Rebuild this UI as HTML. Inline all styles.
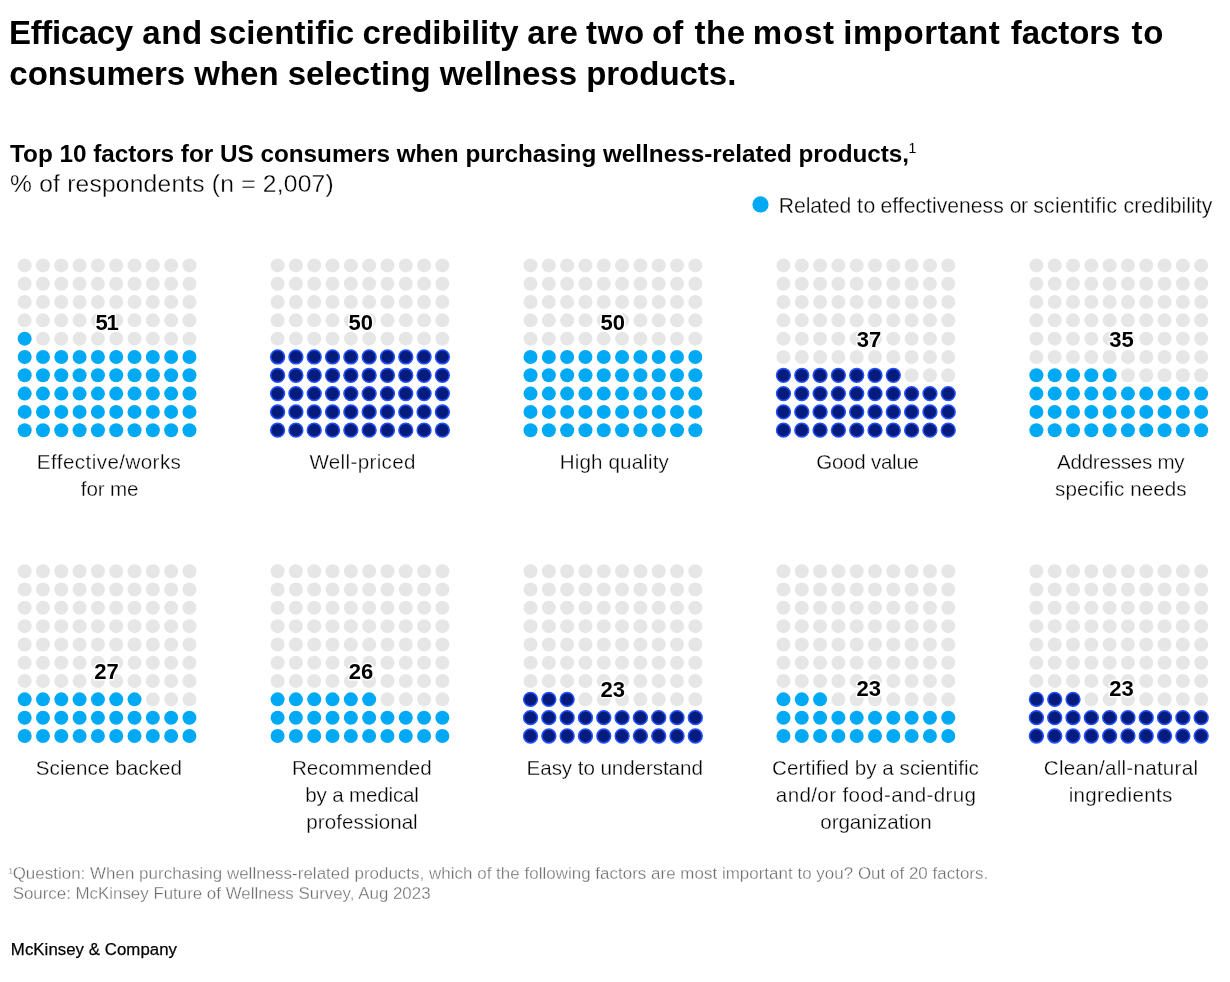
<!DOCTYPE html>
<html lang="en"><head><meta charset="utf-8"><title>Wellness factors</title>
<style>
html,body{margin:0;padding:0;background:#fff;}
body{width:1230px;height:982px;position:relative;overflow:hidden;font-family:'Liberation Sans',sans-serif;}
.t{position:absolute;white-space:nowrap;margin:0;}
.w{position:absolute;top:0;}
svg{position:absolute;left:0;top:0;}
.g circle{fill:#e6e6e6;}
.c circle{fill:#00a9f4;}
.d circle{fill:#051c7c;stroke:#2251ff;stroke-width:1.5;}
.n{font:bold 22px 'Liberation Sans',sans-serif;text-anchor:middle;fill:#000;stroke:#fff;stroke-width:3px;stroke-linejoin:round;paint-order:stroke fill;}
</style></head><body>
<svg width="1230" height="982" viewBox="0 0 1230 982"><g class="g"><circle cx="24.67" cy="265.42" r="7"/><circle cx="42.98" cy="265.42" r="7"/><circle cx="61.29" cy="265.42" r="7"/><circle cx="79.6" cy="265.42" r="7"/><circle cx="97.91" cy="265.42" r="7"/><circle cx="116.22" cy="265.42" r="7"/><circle cx="134.53" cy="265.42" r="7"/><circle cx="152.84" cy="265.42" r="7"/><circle cx="171.15" cy="265.42" r="7"/><circle cx="189.46" cy="265.42" r="7"/><circle cx="24.67" cy="283.73" r="7"/><circle cx="42.98" cy="283.73" r="7"/><circle cx="61.29" cy="283.73" r="7"/><circle cx="79.6" cy="283.73" r="7"/><circle cx="97.91" cy="283.73" r="7"/><circle cx="116.22" cy="283.73" r="7"/><circle cx="134.53" cy="283.73" r="7"/><circle cx="152.84" cy="283.73" r="7"/><circle cx="171.15" cy="283.73" r="7"/><circle cx="189.46" cy="283.73" r="7"/><circle cx="24.67" cy="302.04" r="7"/><circle cx="42.98" cy="302.04" r="7"/><circle cx="61.29" cy="302.04" r="7"/><circle cx="79.6" cy="302.04" r="7"/><circle cx="97.91" cy="302.04" r="7"/><circle cx="116.22" cy="302.04" r="7"/><circle cx="134.53" cy="302.04" r="7"/><circle cx="152.84" cy="302.04" r="7"/><circle cx="171.15" cy="302.04" r="7"/><circle cx="189.46" cy="302.04" r="7"/><circle cx="24.67" cy="320.35" r="7"/><circle cx="42.98" cy="320.35" r="7"/><circle cx="61.29" cy="320.35" r="7"/><circle cx="79.6" cy="320.35" r="7"/><circle cx="97.91" cy="320.35" r="7"/><circle cx="116.22" cy="320.35" r="7"/><circle cx="134.53" cy="320.35" r="7"/><circle cx="152.84" cy="320.35" r="7"/><circle cx="171.15" cy="320.35" r="7"/><circle cx="189.46" cy="320.35" r="7"/><circle cx="42.98" cy="338.66" r="7"/><circle cx="61.29" cy="338.66" r="7"/><circle cx="79.6" cy="338.66" r="7"/><circle cx="97.91" cy="338.66" r="7"/><circle cx="116.22" cy="338.66" r="7"/><circle cx="134.53" cy="338.66" r="7"/><circle cx="152.84" cy="338.66" r="7"/><circle cx="171.15" cy="338.66" r="7"/><circle cx="189.46" cy="338.66" r="7"/></g>
<g class="c"><circle cx="24.67" cy="338.66" r="7.0"/><circle cx="24.67" cy="356.97" r="7.0"/><circle cx="42.98" cy="356.97" r="7.0"/><circle cx="61.29" cy="356.97" r="7.0"/><circle cx="79.6" cy="356.97" r="7.0"/><circle cx="97.91" cy="356.97" r="7.0"/><circle cx="116.22" cy="356.97" r="7.0"/><circle cx="134.53" cy="356.97" r="7.0"/><circle cx="152.84" cy="356.97" r="7.0"/><circle cx="171.15" cy="356.97" r="7.0"/><circle cx="189.46" cy="356.97" r="7.0"/><circle cx="24.67" cy="375.28" r="7.0"/><circle cx="42.98" cy="375.28" r="7.0"/><circle cx="61.29" cy="375.28" r="7.0"/><circle cx="79.6" cy="375.28" r="7.0"/><circle cx="97.91" cy="375.28" r="7.0"/><circle cx="116.22" cy="375.28" r="7.0"/><circle cx="134.53" cy="375.28" r="7.0"/><circle cx="152.84" cy="375.28" r="7.0"/><circle cx="171.15" cy="375.28" r="7.0"/><circle cx="189.46" cy="375.28" r="7.0"/><circle cx="24.67" cy="393.59" r="7.0"/><circle cx="42.98" cy="393.59" r="7.0"/><circle cx="61.29" cy="393.59" r="7.0"/><circle cx="79.6" cy="393.59" r="7.0"/><circle cx="97.91" cy="393.59" r="7.0"/><circle cx="116.22" cy="393.59" r="7.0"/><circle cx="134.53" cy="393.59" r="7.0"/><circle cx="152.84" cy="393.59" r="7.0"/><circle cx="171.15" cy="393.59" r="7.0"/><circle cx="189.46" cy="393.59" r="7.0"/><circle cx="24.67" cy="411.9" r="7.0"/><circle cx="42.98" cy="411.9" r="7.0"/><circle cx="61.29" cy="411.9" r="7.0"/><circle cx="79.6" cy="411.9" r="7.0"/><circle cx="97.91" cy="411.9" r="7.0"/><circle cx="116.22" cy="411.9" r="7.0"/><circle cx="134.53" cy="411.9" r="7.0"/><circle cx="152.84" cy="411.9" r="7.0"/><circle cx="171.15" cy="411.9" r="7.0"/><circle cx="189.46" cy="411.9" r="7.0"/><circle cx="24.67" cy="430.21" r="7.0"/><circle cx="42.98" cy="430.21" r="7.0"/><circle cx="61.29" cy="430.21" r="7.0"/><circle cx="79.6" cy="430.21" r="7.0"/><circle cx="97.91" cy="430.21" r="7.0"/><circle cx="116.22" cy="430.21" r="7.0"/><circle cx="134.53" cy="430.21" r="7.0"/><circle cx="152.84" cy="430.21" r="7.0"/><circle cx="171.15" cy="430.21" r="7.0"/><circle cx="189.46" cy="430.21" r="7.0"/></g>
<text class="n" x="106.4" y="329.8" style="letter-spacing:-1.3px">51</text>
<g class="g"><circle cx="277.6" cy="265.42" r="7"/><circle cx="295.91" cy="265.42" r="7"/><circle cx="314.22" cy="265.42" r="7"/><circle cx="332.53" cy="265.42" r="7"/><circle cx="350.84" cy="265.42" r="7"/><circle cx="369.15" cy="265.42" r="7"/><circle cx="387.46" cy="265.42" r="7"/><circle cx="405.77" cy="265.42" r="7"/><circle cx="424.08" cy="265.42" r="7"/><circle cx="442.39" cy="265.42" r="7"/><circle cx="277.6" cy="283.73" r="7"/><circle cx="295.91" cy="283.73" r="7"/><circle cx="314.22" cy="283.73" r="7"/><circle cx="332.53" cy="283.73" r="7"/><circle cx="350.84" cy="283.73" r="7"/><circle cx="369.15" cy="283.73" r="7"/><circle cx="387.46" cy="283.73" r="7"/><circle cx="405.77" cy="283.73" r="7"/><circle cx="424.08" cy="283.73" r="7"/><circle cx="442.39" cy="283.73" r="7"/><circle cx="277.6" cy="302.04" r="7"/><circle cx="295.91" cy="302.04" r="7"/><circle cx="314.22" cy="302.04" r="7"/><circle cx="332.53" cy="302.04" r="7"/><circle cx="350.84" cy="302.04" r="7"/><circle cx="369.15" cy="302.04" r="7"/><circle cx="387.46" cy="302.04" r="7"/><circle cx="405.77" cy="302.04" r="7"/><circle cx="424.08" cy="302.04" r="7"/><circle cx="442.39" cy="302.04" r="7"/><circle cx="277.6" cy="320.35" r="7"/><circle cx="295.91" cy="320.35" r="7"/><circle cx="314.22" cy="320.35" r="7"/><circle cx="332.53" cy="320.35" r="7"/><circle cx="350.84" cy="320.35" r="7"/><circle cx="369.15" cy="320.35" r="7"/><circle cx="387.46" cy="320.35" r="7"/><circle cx="405.77" cy="320.35" r="7"/><circle cx="424.08" cy="320.35" r="7"/><circle cx="442.39" cy="320.35" r="7"/><circle cx="277.6" cy="338.66" r="7"/><circle cx="295.91" cy="338.66" r="7"/><circle cx="314.22" cy="338.66" r="7"/><circle cx="332.53" cy="338.66" r="7"/><circle cx="350.84" cy="338.66" r="7"/><circle cx="369.15" cy="338.66" r="7"/><circle cx="387.46" cy="338.66" r="7"/><circle cx="405.77" cy="338.66" r="7"/><circle cx="424.08" cy="338.66" r="7"/><circle cx="442.39" cy="338.66" r="7"/></g>
<g class="d"><circle cx="277.6" cy="356.97" r="6.9"/><circle cx="295.91" cy="356.97" r="6.9"/><circle cx="314.22" cy="356.97" r="6.9"/><circle cx="332.53" cy="356.97" r="6.9"/><circle cx="350.84" cy="356.97" r="6.9"/><circle cx="369.15" cy="356.97" r="6.9"/><circle cx="387.46" cy="356.97" r="6.9"/><circle cx="405.77" cy="356.97" r="6.9"/><circle cx="424.08" cy="356.97" r="6.9"/><circle cx="442.39" cy="356.97" r="6.9"/><circle cx="277.6" cy="375.28" r="6.9"/><circle cx="295.91" cy="375.28" r="6.9"/><circle cx="314.22" cy="375.28" r="6.9"/><circle cx="332.53" cy="375.28" r="6.9"/><circle cx="350.84" cy="375.28" r="6.9"/><circle cx="369.15" cy="375.28" r="6.9"/><circle cx="387.46" cy="375.28" r="6.9"/><circle cx="405.77" cy="375.28" r="6.9"/><circle cx="424.08" cy="375.28" r="6.9"/><circle cx="442.39" cy="375.28" r="6.9"/><circle cx="277.6" cy="393.59" r="6.9"/><circle cx="295.91" cy="393.59" r="6.9"/><circle cx="314.22" cy="393.59" r="6.9"/><circle cx="332.53" cy="393.59" r="6.9"/><circle cx="350.84" cy="393.59" r="6.9"/><circle cx="369.15" cy="393.59" r="6.9"/><circle cx="387.46" cy="393.59" r="6.9"/><circle cx="405.77" cy="393.59" r="6.9"/><circle cx="424.08" cy="393.59" r="6.9"/><circle cx="442.39" cy="393.59" r="6.9"/><circle cx="277.6" cy="411.9" r="6.9"/><circle cx="295.91" cy="411.9" r="6.9"/><circle cx="314.22" cy="411.9" r="6.9"/><circle cx="332.53" cy="411.9" r="6.9"/><circle cx="350.84" cy="411.9" r="6.9"/><circle cx="369.15" cy="411.9" r="6.9"/><circle cx="387.46" cy="411.9" r="6.9"/><circle cx="405.77" cy="411.9" r="6.9"/><circle cx="424.08" cy="411.9" r="6.9"/><circle cx="442.39" cy="411.9" r="6.9"/><circle cx="277.6" cy="430.21" r="6.9"/><circle cx="295.91" cy="430.21" r="6.9"/><circle cx="314.22" cy="430.21" r="6.9"/><circle cx="332.53" cy="430.21" r="6.9"/><circle cx="350.84" cy="430.21" r="6.9"/><circle cx="369.15" cy="430.21" r="6.9"/><circle cx="387.46" cy="430.21" r="6.9"/><circle cx="405.77" cy="430.21" r="6.9"/><circle cx="424.08" cy="430.21" r="6.9"/><circle cx="442.39" cy="430.21" r="6.9"/></g>
<text class="n" x="360.8" y="329.8">50</text>
<g class="g"><circle cx="530.53" cy="265.42" r="7"/><circle cx="548.84" cy="265.42" r="7"/><circle cx="567.15" cy="265.42" r="7"/><circle cx="585.46" cy="265.42" r="7"/><circle cx="603.77" cy="265.42" r="7"/><circle cx="622.08" cy="265.42" r="7"/><circle cx="640.39" cy="265.42" r="7"/><circle cx="658.7" cy="265.42" r="7"/><circle cx="677.01" cy="265.42" r="7"/><circle cx="695.32" cy="265.42" r="7"/><circle cx="530.53" cy="283.73" r="7"/><circle cx="548.84" cy="283.73" r="7"/><circle cx="567.15" cy="283.73" r="7"/><circle cx="585.46" cy="283.73" r="7"/><circle cx="603.77" cy="283.73" r="7"/><circle cx="622.08" cy="283.73" r="7"/><circle cx="640.39" cy="283.73" r="7"/><circle cx="658.7" cy="283.73" r="7"/><circle cx="677.01" cy="283.73" r="7"/><circle cx="695.32" cy="283.73" r="7"/><circle cx="530.53" cy="302.04" r="7"/><circle cx="548.84" cy="302.04" r="7"/><circle cx="567.15" cy="302.04" r="7"/><circle cx="585.46" cy="302.04" r="7"/><circle cx="603.77" cy="302.04" r="7"/><circle cx="622.08" cy="302.04" r="7"/><circle cx="640.39" cy="302.04" r="7"/><circle cx="658.7" cy="302.04" r="7"/><circle cx="677.01" cy="302.04" r="7"/><circle cx="695.32" cy="302.04" r="7"/><circle cx="530.53" cy="320.35" r="7"/><circle cx="548.84" cy="320.35" r="7"/><circle cx="567.15" cy="320.35" r="7"/><circle cx="585.46" cy="320.35" r="7"/><circle cx="603.77" cy="320.35" r="7"/><circle cx="622.08" cy="320.35" r="7"/><circle cx="640.39" cy="320.35" r="7"/><circle cx="658.7" cy="320.35" r="7"/><circle cx="677.01" cy="320.35" r="7"/><circle cx="695.32" cy="320.35" r="7"/><circle cx="530.53" cy="338.66" r="7"/><circle cx="548.84" cy="338.66" r="7"/><circle cx="567.15" cy="338.66" r="7"/><circle cx="585.46" cy="338.66" r="7"/><circle cx="603.77" cy="338.66" r="7"/><circle cx="622.08" cy="338.66" r="7"/><circle cx="640.39" cy="338.66" r="7"/><circle cx="658.7" cy="338.66" r="7"/><circle cx="677.01" cy="338.66" r="7"/><circle cx="695.32" cy="338.66" r="7"/></g>
<g class="c"><circle cx="530.53" cy="356.97" r="7.0"/><circle cx="548.84" cy="356.97" r="7.0"/><circle cx="567.15" cy="356.97" r="7.0"/><circle cx="585.46" cy="356.97" r="7.0"/><circle cx="603.77" cy="356.97" r="7.0"/><circle cx="622.08" cy="356.97" r="7.0"/><circle cx="640.39" cy="356.97" r="7.0"/><circle cx="658.7" cy="356.97" r="7.0"/><circle cx="677.01" cy="356.97" r="7.0"/><circle cx="695.32" cy="356.97" r="7.0"/><circle cx="530.53" cy="375.28" r="7.0"/><circle cx="548.84" cy="375.28" r="7.0"/><circle cx="567.15" cy="375.28" r="7.0"/><circle cx="585.46" cy="375.28" r="7.0"/><circle cx="603.77" cy="375.28" r="7.0"/><circle cx="622.08" cy="375.28" r="7.0"/><circle cx="640.39" cy="375.28" r="7.0"/><circle cx="658.7" cy="375.28" r="7.0"/><circle cx="677.01" cy="375.28" r="7.0"/><circle cx="695.32" cy="375.28" r="7.0"/><circle cx="530.53" cy="393.59" r="7.0"/><circle cx="548.84" cy="393.59" r="7.0"/><circle cx="567.15" cy="393.59" r="7.0"/><circle cx="585.46" cy="393.59" r="7.0"/><circle cx="603.77" cy="393.59" r="7.0"/><circle cx="622.08" cy="393.59" r="7.0"/><circle cx="640.39" cy="393.59" r="7.0"/><circle cx="658.7" cy="393.59" r="7.0"/><circle cx="677.01" cy="393.59" r="7.0"/><circle cx="695.32" cy="393.59" r="7.0"/><circle cx="530.53" cy="411.9" r="7.0"/><circle cx="548.84" cy="411.9" r="7.0"/><circle cx="567.15" cy="411.9" r="7.0"/><circle cx="585.46" cy="411.9" r="7.0"/><circle cx="603.77" cy="411.9" r="7.0"/><circle cx="622.08" cy="411.9" r="7.0"/><circle cx="640.39" cy="411.9" r="7.0"/><circle cx="658.7" cy="411.9" r="7.0"/><circle cx="677.01" cy="411.9" r="7.0"/><circle cx="695.32" cy="411.9" r="7.0"/><circle cx="530.53" cy="430.21" r="7.0"/><circle cx="548.84" cy="430.21" r="7.0"/><circle cx="567.15" cy="430.21" r="7.0"/><circle cx="585.46" cy="430.21" r="7.0"/><circle cx="603.77" cy="430.21" r="7.0"/><circle cx="622.08" cy="430.21" r="7.0"/><circle cx="640.39" cy="430.21" r="7.0"/><circle cx="658.7" cy="430.21" r="7.0"/><circle cx="677.01" cy="430.21" r="7.0"/><circle cx="695.32" cy="430.21" r="7.0"/></g>
<text class="n" x="612.8" y="329.8">50</text>
<g class="g"><circle cx="783.46" cy="265.42" r="7"/><circle cx="801.77" cy="265.42" r="7"/><circle cx="820.08" cy="265.42" r="7"/><circle cx="838.39" cy="265.42" r="7"/><circle cx="856.7" cy="265.42" r="7"/><circle cx="875.01" cy="265.42" r="7"/><circle cx="893.32" cy="265.42" r="7"/><circle cx="911.63" cy="265.42" r="7"/><circle cx="929.94" cy="265.42" r="7"/><circle cx="948.25" cy="265.42" r="7"/><circle cx="783.46" cy="283.73" r="7"/><circle cx="801.77" cy="283.73" r="7"/><circle cx="820.08" cy="283.73" r="7"/><circle cx="838.39" cy="283.73" r="7"/><circle cx="856.7" cy="283.73" r="7"/><circle cx="875.01" cy="283.73" r="7"/><circle cx="893.32" cy="283.73" r="7"/><circle cx="911.63" cy="283.73" r="7"/><circle cx="929.94" cy="283.73" r="7"/><circle cx="948.25" cy="283.73" r="7"/><circle cx="783.46" cy="302.04" r="7"/><circle cx="801.77" cy="302.04" r="7"/><circle cx="820.08" cy="302.04" r="7"/><circle cx="838.39" cy="302.04" r="7"/><circle cx="856.7" cy="302.04" r="7"/><circle cx="875.01" cy="302.04" r="7"/><circle cx="893.32" cy="302.04" r="7"/><circle cx="911.63" cy="302.04" r="7"/><circle cx="929.94" cy="302.04" r="7"/><circle cx="948.25" cy="302.04" r="7"/><circle cx="783.46" cy="320.35" r="7"/><circle cx="801.77" cy="320.35" r="7"/><circle cx="820.08" cy="320.35" r="7"/><circle cx="838.39" cy="320.35" r="7"/><circle cx="856.7" cy="320.35" r="7"/><circle cx="875.01" cy="320.35" r="7"/><circle cx="893.32" cy="320.35" r="7"/><circle cx="911.63" cy="320.35" r="7"/><circle cx="929.94" cy="320.35" r="7"/><circle cx="948.25" cy="320.35" r="7"/><circle cx="783.46" cy="338.66" r="7"/><circle cx="801.77" cy="338.66" r="7"/><circle cx="820.08" cy="338.66" r="7"/><circle cx="838.39" cy="338.66" r="7"/><circle cx="856.7" cy="338.66" r="7"/><circle cx="875.01" cy="338.66" r="7"/><circle cx="893.32" cy="338.66" r="7"/><circle cx="911.63" cy="338.66" r="7"/><circle cx="929.94" cy="338.66" r="7"/><circle cx="948.25" cy="338.66" r="7"/><circle cx="783.46" cy="356.97" r="7"/><circle cx="801.77" cy="356.97" r="7"/><circle cx="820.08" cy="356.97" r="7"/><circle cx="838.39" cy="356.97" r="7"/><circle cx="856.7" cy="356.97" r="7"/><circle cx="875.01" cy="356.97" r="7"/><circle cx="893.32" cy="356.97" r="7"/><circle cx="911.63" cy="356.97" r="7"/><circle cx="929.94" cy="356.97" r="7"/><circle cx="948.25" cy="356.97" r="7"/><circle cx="911.63" cy="375.28" r="7"/><circle cx="929.94" cy="375.28" r="7"/><circle cx="948.25" cy="375.28" r="7"/></g>
<g class="d"><circle cx="783.46" cy="375.28" r="6.9"/><circle cx="801.77" cy="375.28" r="6.9"/><circle cx="820.08" cy="375.28" r="6.9"/><circle cx="838.39" cy="375.28" r="6.9"/><circle cx="856.7" cy="375.28" r="6.9"/><circle cx="875.01" cy="375.28" r="6.9"/><circle cx="893.32" cy="375.28" r="6.9"/><circle cx="783.46" cy="393.59" r="6.9"/><circle cx="801.77" cy="393.59" r="6.9"/><circle cx="820.08" cy="393.59" r="6.9"/><circle cx="838.39" cy="393.59" r="6.9"/><circle cx="856.7" cy="393.59" r="6.9"/><circle cx="875.01" cy="393.59" r="6.9"/><circle cx="893.32" cy="393.59" r="6.9"/><circle cx="911.63" cy="393.59" r="6.9"/><circle cx="929.94" cy="393.59" r="6.9"/><circle cx="948.25" cy="393.59" r="6.9"/><circle cx="783.46" cy="411.9" r="6.9"/><circle cx="801.77" cy="411.9" r="6.9"/><circle cx="820.08" cy="411.9" r="6.9"/><circle cx="838.39" cy="411.9" r="6.9"/><circle cx="856.7" cy="411.9" r="6.9"/><circle cx="875.01" cy="411.9" r="6.9"/><circle cx="893.32" cy="411.9" r="6.9"/><circle cx="911.63" cy="411.9" r="6.9"/><circle cx="929.94" cy="411.9" r="6.9"/><circle cx="948.25" cy="411.9" r="6.9"/><circle cx="783.46" cy="430.21" r="6.9"/><circle cx="801.77" cy="430.21" r="6.9"/><circle cx="820.08" cy="430.21" r="6.9"/><circle cx="838.39" cy="430.21" r="6.9"/><circle cx="856.7" cy="430.21" r="6.9"/><circle cx="875.01" cy="430.21" r="6.9"/><circle cx="893.32" cy="430.21" r="6.9"/><circle cx="911.63" cy="430.21" r="6.9"/><circle cx="929.94" cy="430.21" r="6.9"/><circle cx="948.25" cy="430.21" r="6.9"/></g>
<text class="n" x="869.0" y="346.6">37</text>
<g class="g"><circle cx="1036.39" cy="265.42" r="7"/><circle cx="1054.7" cy="265.42" r="7"/><circle cx="1073.01" cy="265.42" r="7"/><circle cx="1091.32" cy="265.42" r="7"/><circle cx="1109.63" cy="265.42" r="7"/><circle cx="1127.94" cy="265.42" r="7"/><circle cx="1146.25" cy="265.42" r="7"/><circle cx="1164.56" cy="265.42" r="7"/><circle cx="1182.87" cy="265.42" r="7"/><circle cx="1201.18" cy="265.42" r="7"/><circle cx="1036.39" cy="283.73" r="7"/><circle cx="1054.7" cy="283.73" r="7"/><circle cx="1073.01" cy="283.73" r="7"/><circle cx="1091.32" cy="283.73" r="7"/><circle cx="1109.63" cy="283.73" r="7"/><circle cx="1127.94" cy="283.73" r="7"/><circle cx="1146.25" cy="283.73" r="7"/><circle cx="1164.56" cy="283.73" r="7"/><circle cx="1182.87" cy="283.73" r="7"/><circle cx="1201.18" cy="283.73" r="7"/><circle cx="1036.39" cy="302.04" r="7"/><circle cx="1054.7" cy="302.04" r="7"/><circle cx="1073.01" cy="302.04" r="7"/><circle cx="1091.32" cy="302.04" r="7"/><circle cx="1109.63" cy="302.04" r="7"/><circle cx="1127.94" cy="302.04" r="7"/><circle cx="1146.25" cy="302.04" r="7"/><circle cx="1164.56" cy="302.04" r="7"/><circle cx="1182.87" cy="302.04" r="7"/><circle cx="1201.18" cy="302.04" r="7"/><circle cx="1036.39" cy="320.35" r="7"/><circle cx="1054.7" cy="320.35" r="7"/><circle cx="1073.01" cy="320.35" r="7"/><circle cx="1091.32" cy="320.35" r="7"/><circle cx="1109.63" cy="320.35" r="7"/><circle cx="1127.94" cy="320.35" r="7"/><circle cx="1146.25" cy="320.35" r="7"/><circle cx="1164.56" cy="320.35" r="7"/><circle cx="1182.87" cy="320.35" r="7"/><circle cx="1201.18" cy="320.35" r="7"/><circle cx="1036.39" cy="338.66" r="7"/><circle cx="1054.7" cy="338.66" r="7"/><circle cx="1073.01" cy="338.66" r="7"/><circle cx="1091.32" cy="338.66" r="7"/><circle cx="1109.63" cy="338.66" r="7"/><circle cx="1127.94" cy="338.66" r="7"/><circle cx="1146.25" cy="338.66" r="7"/><circle cx="1164.56" cy="338.66" r="7"/><circle cx="1182.87" cy="338.66" r="7"/><circle cx="1201.18" cy="338.66" r="7"/><circle cx="1036.39" cy="356.97" r="7"/><circle cx="1054.7" cy="356.97" r="7"/><circle cx="1073.01" cy="356.97" r="7"/><circle cx="1091.32" cy="356.97" r="7"/><circle cx="1109.63" cy="356.97" r="7"/><circle cx="1127.94" cy="356.97" r="7"/><circle cx="1146.25" cy="356.97" r="7"/><circle cx="1164.56" cy="356.97" r="7"/><circle cx="1182.87" cy="356.97" r="7"/><circle cx="1201.18" cy="356.97" r="7"/><circle cx="1127.94" cy="375.28" r="7"/><circle cx="1146.25" cy="375.28" r="7"/><circle cx="1164.56" cy="375.28" r="7"/><circle cx="1182.87" cy="375.28" r="7"/><circle cx="1201.18" cy="375.28" r="7"/></g>
<g class="c"><circle cx="1036.39" cy="375.28" r="7.0"/><circle cx="1054.7" cy="375.28" r="7.0"/><circle cx="1073.01" cy="375.28" r="7.0"/><circle cx="1091.32" cy="375.28" r="7.0"/><circle cx="1109.63" cy="375.28" r="7.0"/><circle cx="1036.39" cy="393.59" r="7.0"/><circle cx="1054.7" cy="393.59" r="7.0"/><circle cx="1073.01" cy="393.59" r="7.0"/><circle cx="1091.32" cy="393.59" r="7.0"/><circle cx="1109.63" cy="393.59" r="7.0"/><circle cx="1127.94" cy="393.59" r="7.0"/><circle cx="1146.25" cy="393.59" r="7.0"/><circle cx="1164.56" cy="393.59" r="7.0"/><circle cx="1182.87" cy="393.59" r="7.0"/><circle cx="1201.18" cy="393.59" r="7.0"/><circle cx="1036.39" cy="411.9" r="7.0"/><circle cx="1054.7" cy="411.9" r="7.0"/><circle cx="1073.01" cy="411.9" r="7.0"/><circle cx="1091.32" cy="411.9" r="7.0"/><circle cx="1109.63" cy="411.9" r="7.0"/><circle cx="1127.94" cy="411.9" r="7.0"/><circle cx="1146.25" cy="411.9" r="7.0"/><circle cx="1164.56" cy="411.9" r="7.0"/><circle cx="1182.87" cy="411.9" r="7.0"/><circle cx="1201.18" cy="411.9" r="7.0"/><circle cx="1036.39" cy="430.21" r="7.0"/><circle cx="1054.7" cy="430.21" r="7.0"/><circle cx="1073.01" cy="430.21" r="7.0"/><circle cx="1091.32" cy="430.21" r="7.0"/><circle cx="1109.63" cy="430.21" r="7.0"/><circle cx="1127.94" cy="430.21" r="7.0"/><circle cx="1146.25" cy="430.21" r="7.0"/><circle cx="1164.56" cy="430.21" r="7.0"/><circle cx="1182.87" cy="430.21" r="7.0"/><circle cx="1201.18" cy="430.21" r="7.0"/></g>
<text class="n" x="1121.6" y="346.6">35</text>
<g class="g"><circle cx="24.67" cy="571.2" r="7"/><circle cx="42.98" cy="571.2" r="7"/><circle cx="61.29" cy="571.2" r="7"/><circle cx="79.6" cy="571.2" r="7"/><circle cx="97.91" cy="571.2" r="7"/><circle cx="116.22" cy="571.2" r="7"/><circle cx="134.53" cy="571.2" r="7"/><circle cx="152.84" cy="571.2" r="7"/><circle cx="171.15" cy="571.2" r="7"/><circle cx="189.46" cy="571.2" r="7"/><circle cx="24.67" cy="589.51" r="7"/><circle cx="42.98" cy="589.51" r="7"/><circle cx="61.29" cy="589.51" r="7"/><circle cx="79.6" cy="589.51" r="7"/><circle cx="97.91" cy="589.51" r="7"/><circle cx="116.22" cy="589.51" r="7"/><circle cx="134.53" cy="589.51" r="7"/><circle cx="152.84" cy="589.51" r="7"/><circle cx="171.15" cy="589.51" r="7"/><circle cx="189.46" cy="589.51" r="7"/><circle cx="24.67" cy="607.82" r="7"/><circle cx="42.98" cy="607.82" r="7"/><circle cx="61.29" cy="607.82" r="7"/><circle cx="79.6" cy="607.82" r="7"/><circle cx="97.91" cy="607.82" r="7"/><circle cx="116.22" cy="607.82" r="7"/><circle cx="134.53" cy="607.82" r="7"/><circle cx="152.84" cy="607.82" r="7"/><circle cx="171.15" cy="607.82" r="7"/><circle cx="189.46" cy="607.82" r="7"/><circle cx="24.67" cy="626.13" r="7"/><circle cx="42.98" cy="626.13" r="7"/><circle cx="61.29" cy="626.13" r="7"/><circle cx="79.6" cy="626.13" r="7"/><circle cx="97.91" cy="626.13" r="7"/><circle cx="116.22" cy="626.13" r="7"/><circle cx="134.53" cy="626.13" r="7"/><circle cx="152.84" cy="626.13" r="7"/><circle cx="171.15" cy="626.13" r="7"/><circle cx="189.46" cy="626.13" r="7"/><circle cx="24.67" cy="644.44" r="7"/><circle cx="42.98" cy="644.44" r="7"/><circle cx="61.29" cy="644.44" r="7"/><circle cx="79.6" cy="644.44" r="7"/><circle cx="97.91" cy="644.44" r="7"/><circle cx="116.22" cy="644.44" r="7"/><circle cx="134.53" cy="644.44" r="7"/><circle cx="152.84" cy="644.44" r="7"/><circle cx="171.15" cy="644.44" r="7"/><circle cx="189.46" cy="644.44" r="7"/><circle cx="24.67" cy="662.75" r="7"/><circle cx="42.98" cy="662.75" r="7"/><circle cx="61.29" cy="662.75" r="7"/><circle cx="79.6" cy="662.75" r="7"/><circle cx="97.91" cy="662.75" r="7"/><circle cx="116.22" cy="662.75" r="7"/><circle cx="134.53" cy="662.75" r="7"/><circle cx="152.84" cy="662.75" r="7"/><circle cx="171.15" cy="662.75" r="7"/><circle cx="189.46" cy="662.75" r="7"/><circle cx="24.67" cy="681.06" r="7"/><circle cx="42.98" cy="681.06" r="7"/><circle cx="61.29" cy="681.06" r="7"/><circle cx="79.6" cy="681.06" r="7"/><circle cx="97.91" cy="681.06" r="7"/><circle cx="116.22" cy="681.06" r="7"/><circle cx="134.53" cy="681.06" r="7"/><circle cx="152.84" cy="681.06" r="7"/><circle cx="171.15" cy="681.06" r="7"/><circle cx="189.46" cy="681.06" r="7"/><circle cx="152.84" cy="699.37" r="7"/><circle cx="171.15" cy="699.37" r="7"/><circle cx="189.46" cy="699.37" r="7"/></g>
<g class="c"><circle cx="24.67" cy="699.37" r="7.0"/><circle cx="42.98" cy="699.37" r="7.0"/><circle cx="61.29" cy="699.37" r="7.0"/><circle cx="79.6" cy="699.37" r="7.0"/><circle cx="97.91" cy="699.37" r="7.0"/><circle cx="116.22" cy="699.37" r="7.0"/><circle cx="134.53" cy="699.37" r="7.0"/><circle cx="24.67" cy="717.68" r="7.0"/><circle cx="42.98" cy="717.68" r="7.0"/><circle cx="61.29" cy="717.68" r="7.0"/><circle cx="79.6" cy="717.68" r="7.0"/><circle cx="97.91" cy="717.68" r="7.0"/><circle cx="116.22" cy="717.68" r="7.0"/><circle cx="134.53" cy="717.68" r="7.0"/><circle cx="152.84" cy="717.68" r="7.0"/><circle cx="171.15" cy="717.68" r="7.0"/><circle cx="189.46" cy="717.68" r="7.0"/><circle cx="24.67" cy="735.99" r="7.0"/><circle cx="42.98" cy="735.99" r="7.0"/><circle cx="61.29" cy="735.99" r="7.0"/><circle cx="79.6" cy="735.99" r="7.0"/><circle cx="97.91" cy="735.99" r="7.0"/><circle cx="116.22" cy="735.99" r="7.0"/><circle cx="134.53" cy="735.99" r="7.0"/><circle cx="152.84" cy="735.99" r="7.0"/><circle cx="171.15" cy="735.99" r="7.0"/><circle cx="189.46" cy="735.99" r="7.0"/></g>
<text class="n" x="106.6" y="678.9">27</text>
<g class="g"><circle cx="277.6" cy="571.2" r="7"/><circle cx="295.91" cy="571.2" r="7"/><circle cx="314.22" cy="571.2" r="7"/><circle cx="332.53" cy="571.2" r="7"/><circle cx="350.84" cy="571.2" r="7"/><circle cx="369.15" cy="571.2" r="7"/><circle cx="387.46" cy="571.2" r="7"/><circle cx="405.77" cy="571.2" r="7"/><circle cx="424.08" cy="571.2" r="7"/><circle cx="442.39" cy="571.2" r="7"/><circle cx="277.6" cy="589.51" r="7"/><circle cx="295.91" cy="589.51" r="7"/><circle cx="314.22" cy="589.51" r="7"/><circle cx="332.53" cy="589.51" r="7"/><circle cx="350.84" cy="589.51" r="7"/><circle cx="369.15" cy="589.51" r="7"/><circle cx="387.46" cy="589.51" r="7"/><circle cx="405.77" cy="589.51" r="7"/><circle cx="424.08" cy="589.51" r="7"/><circle cx="442.39" cy="589.51" r="7"/><circle cx="277.6" cy="607.82" r="7"/><circle cx="295.91" cy="607.82" r="7"/><circle cx="314.22" cy="607.82" r="7"/><circle cx="332.53" cy="607.82" r="7"/><circle cx="350.84" cy="607.82" r="7"/><circle cx="369.15" cy="607.82" r="7"/><circle cx="387.46" cy="607.82" r="7"/><circle cx="405.77" cy="607.82" r="7"/><circle cx="424.08" cy="607.82" r="7"/><circle cx="442.39" cy="607.82" r="7"/><circle cx="277.6" cy="626.13" r="7"/><circle cx="295.91" cy="626.13" r="7"/><circle cx="314.22" cy="626.13" r="7"/><circle cx="332.53" cy="626.13" r="7"/><circle cx="350.84" cy="626.13" r="7"/><circle cx="369.15" cy="626.13" r="7"/><circle cx="387.46" cy="626.13" r="7"/><circle cx="405.77" cy="626.13" r="7"/><circle cx="424.08" cy="626.13" r="7"/><circle cx="442.39" cy="626.13" r="7"/><circle cx="277.6" cy="644.44" r="7"/><circle cx="295.91" cy="644.44" r="7"/><circle cx="314.22" cy="644.44" r="7"/><circle cx="332.53" cy="644.44" r="7"/><circle cx="350.84" cy="644.44" r="7"/><circle cx="369.15" cy="644.44" r="7"/><circle cx="387.46" cy="644.44" r="7"/><circle cx="405.77" cy="644.44" r="7"/><circle cx="424.08" cy="644.44" r="7"/><circle cx="442.39" cy="644.44" r="7"/><circle cx="277.6" cy="662.75" r="7"/><circle cx="295.91" cy="662.75" r="7"/><circle cx="314.22" cy="662.75" r="7"/><circle cx="332.53" cy="662.75" r="7"/><circle cx="350.84" cy="662.75" r="7"/><circle cx="369.15" cy="662.75" r="7"/><circle cx="387.46" cy="662.75" r="7"/><circle cx="405.77" cy="662.75" r="7"/><circle cx="424.08" cy="662.75" r="7"/><circle cx="442.39" cy="662.75" r="7"/><circle cx="277.6" cy="681.06" r="7"/><circle cx="295.91" cy="681.06" r="7"/><circle cx="314.22" cy="681.06" r="7"/><circle cx="332.53" cy="681.06" r="7"/><circle cx="350.84" cy="681.06" r="7"/><circle cx="369.15" cy="681.06" r="7"/><circle cx="387.46" cy="681.06" r="7"/><circle cx="405.77" cy="681.06" r="7"/><circle cx="424.08" cy="681.06" r="7"/><circle cx="442.39" cy="681.06" r="7"/><circle cx="387.46" cy="699.37" r="7"/><circle cx="405.77" cy="699.37" r="7"/><circle cx="424.08" cy="699.37" r="7"/><circle cx="442.39" cy="699.37" r="7"/></g>
<g class="c"><circle cx="277.6" cy="699.37" r="7.0"/><circle cx="295.91" cy="699.37" r="7.0"/><circle cx="314.22" cy="699.37" r="7.0"/><circle cx="332.53" cy="699.37" r="7.0"/><circle cx="350.84" cy="699.37" r="7.0"/><circle cx="369.15" cy="699.37" r="7.0"/><circle cx="277.6" cy="717.68" r="7.0"/><circle cx="295.91" cy="717.68" r="7.0"/><circle cx="314.22" cy="717.68" r="7.0"/><circle cx="332.53" cy="717.68" r="7.0"/><circle cx="350.84" cy="717.68" r="7.0"/><circle cx="369.15" cy="717.68" r="7.0"/><circle cx="387.46" cy="717.68" r="7.0"/><circle cx="405.77" cy="717.68" r="7.0"/><circle cx="424.08" cy="717.68" r="7.0"/><circle cx="442.39" cy="717.68" r="7.0"/><circle cx="277.6" cy="735.99" r="7.0"/><circle cx="295.91" cy="735.99" r="7.0"/><circle cx="314.22" cy="735.99" r="7.0"/><circle cx="332.53" cy="735.99" r="7.0"/><circle cx="350.84" cy="735.99" r="7.0"/><circle cx="369.15" cy="735.99" r="7.0"/><circle cx="387.46" cy="735.99" r="7.0"/><circle cx="405.77" cy="735.99" r="7.0"/><circle cx="424.08" cy="735.99" r="7.0"/><circle cx="442.39" cy="735.99" r="7.0"/></g>
<text class="n" x="360.9" y="678.9">26</text>
<g class="g"><circle cx="530.53" cy="571.2" r="7"/><circle cx="548.84" cy="571.2" r="7"/><circle cx="567.15" cy="571.2" r="7"/><circle cx="585.46" cy="571.2" r="7"/><circle cx="603.77" cy="571.2" r="7"/><circle cx="622.08" cy="571.2" r="7"/><circle cx="640.39" cy="571.2" r="7"/><circle cx="658.7" cy="571.2" r="7"/><circle cx="677.01" cy="571.2" r="7"/><circle cx="695.32" cy="571.2" r="7"/><circle cx="530.53" cy="589.51" r="7"/><circle cx="548.84" cy="589.51" r="7"/><circle cx="567.15" cy="589.51" r="7"/><circle cx="585.46" cy="589.51" r="7"/><circle cx="603.77" cy="589.51" r="7"/><circle cx="622.08" cy="589.51" r="7"/><circle cx="640.39" cy="589.51" r="7"/><circle cx="658.7" cy="589.51" r="7"/><circle cx="677.01" cy="589.51" r="7"/><circle cx="695.32" cy="589.51" r="7"/><circle cx="530.53" cy="607.82" r="7"/><circle cx="548.84" cy="607.82" r="7"/><circle cx="567.15" cy="607.82" r="7"/><circle cx="585.46" cy="607.82" r="7"/><circle cx="603.77" cy="607.82" r="7"/><circle cx="622.08" cy="607.82" r="7"/><circle cx="640.39" cy="607.82" r="7"/><circle cx="658.7" cy="607.82" r="7"/><circle cx="677.01" cy="607.82" r="7"/><circle cx="695.32" cy="607.82" r="7"/><circle cx="530.53" cy="626.13" r="7"/><circle cx="548.84" cy="626.13" r="7"/><circle cx="567.15" cy="626.13" r="7"/><circle cx="585.46" cy="626.13" r="7"/><circle cx="603.77" cy="626.13" r="7"/><circle cx="622.08" cy="626.13" r="7"/><circle cx="640.39" cy="626.13" r="7"/><circle cx="658.7" cy="626.13" r="7"/><circle cx="677.01" cy="626.13" r="7"/><circle cx="695.32" cy="626.13" r="7"/><circle cx="530.53" cy="644.44" r="7"/><circle cx="548.84" cy="644.44" r="7"/><circle cx="567.15" cy="644.44" r="7"/><circle cx="585.46" cy="644.44" r="7"/><circle cx="603.77" cy="644.44" r="7"/><circle cx="622.08" cy="644.44" r="7"/><circle cx="640.39" cy="644.44" r="7"/><circle cx="658.7" cy="644.44" r="7"/><circle cx="677.01" cy="644.44" r="7"/><circle cx="695.32" cy="644.44" r="7"/><circle cx="530.53" cy="662.75" r="7"/><circle cx="548.84" cy="662.75" r="7"/><circle cx="567.15" cy="662.75" r="7"/><circle cx="585.46" cy="662.75" r="7"/><circle cx="603.77" cy="662.75" r="7"/><circle cx="622.08" cy="662.75" r="7"/><circle cx="640.39" cy="662.75" r="7"/><circle cx="658.7" cy="662.75" r="7"/><circle cx="677.01" cy="662.75" r="7"/><circle cx="695.32" cy="662.75" r="7"/><circle cx="530.53" cy="681.06" r="7"/><circle cx="548.84" cy="681.06" r="7"/><circle cx="567.15" cy="681.06" r="7"/><circle cx="585.46" cy="681.06" r="7"/><circle cx="603.77" cy="681.06" r="7"/><circle cx="622.08" cy="681.06" r="7"/><circle cx="640.39" cy="681.06" r="7"/><circle cx="658.7" cy="681.06" r="7"/><circle cx="677.01" cy="681.06" r="7"/><circle cx="695.32" cy="681.06" r="7"/><circle cx="585.46" cy="699.37" r="7"/><circle cx="603.77" cy="699.37" r="7"/><circle cx="622.08" cy="699.37" r="7"/><circle cx="640.39" cy="699.37" r="7"/><circle cx="658.7" cy="699.37" r="7"/><circle cx="677.01" cy="699.37" r="7"/><circle cx="695.32" cy="699.37" r="7"/></g>
<g class="d"><circle cx="530.53" cy="699.37" r="6.9"/><circle cx="548.84" cy="699.37" r="6.9"/><circle cx="567.15" cy="699.37" r="6.9"/><circle cx="530.53" cy="717.68" r="6.9"/><circle cx="548.84" cy="717.68" r="6.9"/><circle cx="567.15" cy="717.68" r="6.9"/><circle cx="585.46" cy="717.68" r="6.9"/><circle cx="603.77" cy="717.68" r="6.9"/><circle cx="622.08" cy="717.68" r="6.9"/><circle cx="640.39" cy="717.68" r="6.9"/><circle cx="658.7" cy="717.68" r="6.9"/><circle cx="677.01" cy="717.68" r="6.9"/><circle cx="695.32" cy="717.68" r="6.9"/><circle cx="530.53" cy="735.99" r="6.9"/><circle cx="548.84" cy="735.99" r="6.9"/><circle cx="567.15" cy="735.99" r="6.9"/><circle cx="585.46" cy="735.99" r="6.9"/><circle cx="603.77" cy="735.99" r="6.9"/><circle cx="622.08" cy="735.99" r="6.9"/><circle cx="640.39" cy="735.99" r="6.9"/><circle cx="658.7" cy="735.99" r="6.9"/><circle cx="677.01" cy="735.99" r="6.9"/><circle cx="695.32" cy="735.99" r="6.9"/></g>
<text class="n" x="612.85" y="697.1">23</text>
<g class="g"><circle cx="783.46" cy="571.2" r="7"/><circle cx="801.77" cy="571.2" r="7"/><circle cx="820.08" cy="571.2" r="7"/><circle cx="838.39" cy="571.2" r="7"/><circle cx="856.7" cy="571.2" r="7"/><circle cx="875.01" cy="571.2" r="7"/><circle cx="893.32" cy="571.2" r="7"/><circle cx="911.63" cy="571.2" r="7"/><circle cx="929.94" cy="571.2" r="7"/><circle cx="948.25" cy="571.2" r="7"/><circle cx="783.46" cy="589.51" r="7"/><circle cx="801.77" cy="589.51" r="7"/><circle cx="820.08" cy="589.51" r="7"/><circle cx="838.39" cy="589.51" r="7"/><circle cx="856.7" cy="589.51" r="7"/><circle cx="875.01" cy="589.51" r="7"/><circle cx="893.32" cy="589.51" r="7"/><circle cx="911.63" cy="589.51" r="7"/><circle cx="929.94" cy="589.51" r="7"/><circle cx="948.25" cy="589.51" r="7"/><circle cx="783.46" cy="607.82" r="7"/><circle cx="801.77" cy="607.82" r="7"/><circle cx="820.08" cy="607.82" r="7"/><circle cx="838.39" cy="607.82" r="7"/><circle cx="856.7" cy="607.82" r="7"/><circle cx="875.01" cy="607.82" r="7"/><circle cx="893.32" cy="607.82" r="7"/><circle cx="911.63" cy="607.82" r="7"/><circle cx="929.94" cy="607.82" r="7"/><circle cx="948.25" cy="607.82" r="7"/><circle cx="783.46" cy="626.13" r="7"/><circle cx="801.77" cy="626.13" r="7"/><circle cx="820.08" cy="626.13" r="7"/><circle cx="838.39" cy="626.13" r="7"/><circle cx="856.7" cy="626.13" r="7"/><circle cx="875.01" cy="626.13" r="7"/><circle cx="893.32" cy="626.13" r="7"/><circle cx="911.63" cy="626.13" r="7"/><circle cx="929.94" cy="626.13" r="7"/><circle cx="948.25" cy="626.13" r="7"/><circle cx="783.46" cy="644.44" r="7"/><circle cx="801.77" cy="644.44" r="7"/><circle cx="820.08" cy="644.44" r="7"/><circle cx="838.39" cy="644.44" r="7"/><circle cx="856.7" cy="644.44" r="7"/><circle cx="875.01" cy="644.44" r="7"/><circle cx="893.32" cy="644.44" r="7"/><circle cx="911.63" cy="644.44" r="7"/><circle cx="929.94" cy="644.44" r="7"/><circle cx="948.25" cy="644.44" r="7"/><circle cx="783.46" cy="662.75" r="7"/><circle cx="801.77" cy="662.75" r="7"/><circle cx="820.08" cy="662.75" r="7"/><circle cx="838.39" cy="662.75" r="7"/><circle cx="856.7" cy="662.75" r="7"/><circle cx="875.01" cy="662.75" r="7"/><circle cx="893.32" cy="662.75" r="7"/><circle cx="911.63" cy="662.75" r="7"/><circle cx="929.94" cy="662.75" r="7"/><circle cx="948.25" cy="662.75" r="7"/><circle cx="783.46" cy="681.06" r="7"/><circle cx="801.77" cy="681.06" r="7"/><circle cx="820.08" cy="681.06" r="7"/><circle cx="838.39" cy="681.06" r="7"/><circle cx="856.7" cy="681.06" r="7"/><circle cx="875.01" cy="681.06" r="7"/><circle cx="893.32" cy="681.06" r="7"/><circle cx="911.63" cy="681.06" r="7"/><circle cx="929.94" cy="681.06" r="7"/><circle cx="948.25" cy="681.06" r="7"/><circle cx="838.39" cy="699.37" r="7"/><circle cx="856.7" cy="699.37" r="7"/><circle cx="875.01" cy="699.37" r="7"/><circle cx="893.32" cy="699.37" r="7"/><circle cx="911.63" cy="699.37" r="7"/><circle cx="929.94" cy="699.37" r="7"/><circle cx="948.25" cy="699.37" r="7"/></g>
<g class="c"><circle cx="783.46" cy="699.37" r="7.0"/><circle cx="801.77" cy="699.37" r="7.0"/><circle cx="820.08" cy="699.37" r="7.0"/><circle cx="783.46" cy="717.68" r="7.0"/><circle cx="801.77" cy="717.68" r="7.0"/><circle cx="820.08" cy="717.68" r="7.0"/><circle cx="838.39" cy="717.68" r="7.0"/><circle cx="856.7" cy="717.68" r="7.0"/><circle cx="875.01" cy="717.68" r="7.0"/><circle cx="893.32" cy="717.68" r="7.0"/><circle cx="911.63" cy="717.68" r="7.0"/><circle cx="929.94" cy="717.68" r="7.0"/><circle cx="948.25" cy="717.68" r="7.0"/><circle cx="783.46" cy="735.99" r="7.0"/><circle cx="801.77" cy="735.99" r="7.0"/><circle cx="820.08" cy="735.99" r="7.0"/><circle cx="838.39" cy="735.99" r="7.0"/><circle cx="856.7" cy="735.99" r="7.0"/><circle cx="875.01" cy="735.99" r="7.0"/><circle cx="893.32" cy="735.99" r="7.0"/><circle cx="911.63" cy="735.99" r="7.0"/><circle cx="929.94" cy="735.99" r="7.0"/><circle cx="948.25" cy="735.99" r="7.0"/></g>
<text class="n" x="868.7" y="696.0">23</text>
<g class="g"><circle cx="1036.39" cy="571.2" r="7"/><circle cx="1054.7" cy="571.2" r="7"/><circle cx="1073.01" cy="571.2" r="7"/><circle cx="1091.32" cy="571.2" r="7"/><circle cx="1109.63" cy="571.2" r="7"/><circle cx="1127.94" cy="571.2" r="7"/><circle cx="1146.25" cy="571.2" r="7"/><circle cx="1164.56" cy="571.2" r="7"/><circle cx="1182.87" cy="571.2" r="7"/><circle cx="1201.18" cy="571.2" r="7"/><circle cx="1036.39" cy="589.51" r="7"/><circle cx="1054.7" cy="589.51" r="7"/><circle cx="1073.01" cy="589.51" r="7"/><circle cx="1091.32" cy="589.51" r="7"/><circle cx="1109.63" cy="589.51" r="7"/><circle cx="1127.94" cy="589.51" r="7"/><circle cx="1146.25" cy="589.51" r="7"/><circle cx="1164.56" cy="589.51" r="7"/><circle cx="1182.87" cy="589.51" r="7"/><circle cx="1201.18" cy="589.51" r="7"/><circle cx="1036.39" cy="607.82" r="7"/><circle cx="1054.7" cy="607.82" r="7"/><circle cx="1073.01" cy="607.82" r="7"/><circle cx="1091.32" cy="607.82" r="7"/><circle cx="1109.63" cy="607.82" r="7"/><circle cx="1127.94" cy="607.82" r="7"/><circle cx="1146.25" cy="607.82" r="7"/><circle cx="1164.56" cy="607.82" r="7"/><circle cx="1182.87" cy="607.82" r="7"/><circle cx="1201.18" cy="607.82" r="7"/><circle cx="1036.39" cy="626.13" r="7"/><circle cx="1054.7" cy="626.13" r="7"/><circle cx="1073.01" cy="626.13" r="7"/><circle cx="1091.32" cy="626.13" r="7"/><circle cx="1109.63" cy="626.13" r="7"/><circle cx="1127.94" cy="626.13" r="7"/><circle cx="1146.25" cy="626.13" r="7"/><circle cx="1164.56" cy="626.13" r="7"/><circle cx="1182.87" cy="626.13" r="7"/><circle cx="1201.18" cy="626.13" r="7"/><circle cx="1036.39" cy="644.44" r="7"/><circle cx="1054.7" cy="644.44" r="7"/><circle cx="1073.01" cy="644.44" r="7"/><circle cx="1091.32" cy="644.44" r="7"/><circle cx="1109.63" cy="644.44" r="7"/><circle cx="1127.94" cy="644.44" r="7"/><circle cx="1146.25" cy="644.44" r="7"/><circle cx="1164.56" cy="644.44" r="7"/><circle cx="1182.87" cy="644.44" r="7"/><circle cx="1201.18" cy="644.44" r="7"/><circle cx="1036.39" cy="662.75" r="7"/><circle cx="1054.7" cy="662.75" r="7"/><circle cx="1073.01" cy="662.75" r="7"/><circle cx="1091.32" cy="662.75" r="7"/><circle cx="1109.63" cy="662.75" r="7"/><circle cx="1127.94" cy="662.75" r="7"/><circle cx="1146.25" cy="662.75" r="7"/><circle cx="1164.56" cy="662.75" r="7"/><circle cx="1182.87" cy="662.75" r="7"/><circle cx="1201.18" cy="662.75" r="7"/><circle cx="1036.39" cy="681.06" r="7"/><circle cx="1054.7" cy="681.06" r="7"/><circle cx="1073.01" cy="681.06" r="7"/><circle cx="1091.32" cy="681.06" r="7"/><circle cx="1109.63" cy="681.06" r="7"/><circle cx="1127.94" cy="681.06" r="7"/><circle cx="1146.25" cy="681.06" r="7"/><circle cx="1164.56" cy="681.06" r="7"/><circle cx="1182.87" cy="681.06" r="7"/><circle cx="1201.18" cy="681.06" r="7"/><circle cx="1091.32" cy="699.37" r="7"/><circle cx="1109.63" cy="699.37" r="7"/><circle cx="1127.94" cy="699.37" r="7"/><circle cx="1146.25" cy="699.37" r="7"/><circle cx="1164.56" cy="699.37" r="7"/><circle cx="1182.87" cy="699.37" r="7"/><circle cx="1201.18" cy="699.37" r="7"/></g>
<g class="d"><circle cx="1036.39" cy="699.37" r="6.9"/><circle cx="1054.7" cy="699.37" r="6.9"/><circle cx="1073.01" cy="699.37" r="6.9"/><circle cx="1036.39" cy="717.68" r="6.9"/><circle cx="1054.7" cy="717.68" r="6.9"/><circle cx="1073.01" cy="717.68" r="6.9"/><circle cx="1091.32" cy="717.68" r="6.9"/><circle cx="1109.63" cy="717.68" r="6.9"/><circle cx="1127.94" cy="717.68" r="6.9"/><circle cx="1146.25" cy="717.68" r="6.9"/><circle cx="1164.56" cy="717.68" r="6.9"/><circle cx="1182.87" cy="717.68" r="6.9"/><circle cx="1201.18" cy="717.68" r="6.9"/><circle cx="1036.39" cy="735.99" r="6.9"/><circle cx="1054.7" cy="735.99" r="6.9"/><circle cx="1073.01" cy="735.99" r="6.9"/><circle cx="1091.32" cy="735.99" r="6.9"/><circle cx="1109.63" cy="735.99" r="6.9"/><circle cx="1127.94" cy="735.99" r="6.9"/><circle cx="1146.25" cy="735.99" r="6.9"/><circle cx="1164.56" cy="735.99" r="6.9"/><circle cx="1182.87" cy="735.99" r="6.9"/><circle cx="1201.18" cy="735.99" r="6.9"/></g>
<text class="n" x="1121.6" y="696.0">23</text>
<circle cx="760.5" cy="204.4" r="8.1" fill="#00a9f4"/></svg>
<div class="t" style="left:0;top:12.87px;width:1230px;height:39.6px;font-size:33px;line-height:39.6px;font-weight:bold;color:#000;"><span class="w" style="left:9.05px;letter-spacing:-0.371px">Efficacy</span> <span class="w" style="left:142.3px;letter-spacing:0.6px">and</span> <span class="w" style="left:209.05px;letter-spacing:0.228px">scientific</span> <span class="w" style="left:362.55px;letter-spacing:0.025px">credibility</span> <span class="w" style="left:527.3px;letter-spacing:0.45px">are</span> <span class="w" style="left:586.05px;letter-spacing:0.6px">two</span> <span class="w" style="left:652.05px;letter-spacing:0.0px">of</span> <span class="w" style="left:694.52px;letter-spacing:0.6px">the</span> <span class="w" style="left:752.75px;letter-spacing:0.817px">most</span> <span class="w" style="left:843.25px;letter-spacing:0.55px">important</span> <span class="w" style="left:1010.7px;letter-spacing:-0.042px">factors</span> <span class="w" style="left:1131.58px;letter-spacing:0.6px">to</span></div>
<div class="t" style="left:9.35px;top:54.37px;font-size:33px;line-height:39.6px;font-weight:bold;letter-spacing:-0.026px;color:#000;">consumers when selecting wellness products.</div>
<div class="t" style="left:10.05px;top:139.48px;font-size:24.3px;line-height:29.2px;font-weight:bold;letter-spacing:-0.014px;color:#000;">Top 10 factors for US consumers when purchasing wellness-related products,</div>
<div class="t" style="left:10.05px;top:169.23px;font-size:24.6px;line-height:29.5px;font-weight:normal;letter-spacing:0.211px;color:#000;-webkit-text-stroke:0.3px #fff;">% of respondents (n = 2,007)</div>
<div class="t" style="left:0;top:192.85px;width:1230px;height:25.4px;font-size:21.2px;line-height:25.4px;font-weight:normal;color:#000;-webkit-text-stroke:0.3px #fff;"><span class="w" style="left:778.75px;letter-spacing:-0.083px">Related</span> <span class="w" style="left:857.1px;letter-spacing:0.6px">to</span> <span class="w" style="left:880.6px;letter-spacing:-0.008px">effectiveness</span> <span class="w" style="left:1009.75px;letter-spacing:-0.5px">or</span> <span class="w" style="left:1033.25px;letter-spacing:0.278px">scientific</span> <span class="w" style="left:1123.5px;letter-spacing:0.055px">credibility</span></div>
<div class="t" style="left:36.8px;top:450.31px;font-size:20.6px;line-height:24.7px;font-weight:normal;letter-spacing:0.429px;color:#000;-webkit-text-stroke:0.3px #fff;">Effective/works</div>
<div class="t" style="left:80.85px;top:477.01px;font-size:20.6px;line-height:24.7px;font-weight:normal;letter-spacing:-0.17px;color:#000;-webkit-text-stroke:0.3px #fff;">for me</div>
<div class="t" style="left:309.4px;top:450.31px;font-size:20.6px;line-height:24.7px;font-weight:normal;letter-spacing:0.35px;color:#000;-webkit-text-stroke:0.3px #fff;">Well-priced</div>
<div class="t" style="left:559.7px;top:450.31px;font-size:20.6px;line-height:24.7px;font-weight:normal;letter-spacing:0.141px;color:#000;-webkit-text-stroke:0.3px #fff;">High quality</div>
<div class="t" style="left:816.15px;top:450.31px;font-size:20.6px;line-height:24.7px;font-weight:normal;letter-spacing:-0.267px;color:#000;-webkit-text-stroke:0.3px #fff;">Good value</div>
<div class="t" style="left:1056.95px;top:450.31px;font-size:20.6px;line-height:24.7px;font-weight:normal;letter-spacing:-0.25px;color:#000;-webkit-text-stroke:0.3px #fff;">Addresses my</div>
<div class="t" style="left:1055.0px;top:477.01px;font-size:20.6px;line-height:24.7px;font-weight:normal;letter-spacing:0.088px;color:#000;-webkit-text-stroke:0.3px #fff;">specific needs</div>
<div class="t" style="left:35.75px;top:756.11px;font-size:20.6px;line-height:24.7px;font-weight:normal;letter-spacing:0.069px;color:#000;-webkit-text-stroke:0.3px #fff;">Science backed</div>
<div class="t" style="left:291.9px;top:756.11px;font-size:20.6px;line-height:24.7px;font-weight:normal;letter-spacing:0.02px;color:#000;-webkit-text-stroke:0.3px #fff;">Recommended</div>
<div class="t" style="left:305.25px;top:782.81px;font-size:20.6px;line-height:24.7px;font-weight:normal;letter-spacing:-0.182px;color:#000;-webkit-text-stroke:0.3px #fff;">by a medical</div>
<div class="t" style="left:306.35px;top:809.51px;font-size:20.6px;line-height:24.7px;font-weight:normal;letter-spacing:0.027px;color:#000;-webkit-text-stroke:0.3px #fff;">professional</div>
<div class="t" style="left:526.6px;top:756.11px;font-size:20.6px;line-height:24.7px;font-weight:normal;letter-spacing:-0.071px;color:#000;-webkit-text-stroke:0.3px #fff;">Easy to understand</div>
<div class="t" style="left:772.05px;top:756.11px;font-size:20.6px;line-height:24.7px;font-weight:normal;letter-spacing:0.033px;color:#000;-webkit-text-stroke:0.3px #fff;">Certified by a scientific</div>
<div class="t" style="left:775.85px;top:782.81px;font-size:20.6px;line-height:24.7px;font-weight:normal;letter-spacing:0.353px;color:#000;-webkit-text-stroke:0.3px #fff;">and/or food-and-drug</div>
<div class="t" style="left:820.25px;top:809.51px;font-size:20.6px;line-height:24.7px;font-weight:normal;letter-spacing:-0.077px;color:#000;-webkit-text-stroke:0.3px #fff;">organization</div>
<div class="t" style="left:1043.85px;top:756.11px;font-size:20.6px;line-height:24.7px;font-weight:normal;letter-spacing:0.262px;color:#000;-webkit-text-stroke:0.3px #fff;">Clean/all-natural</div>
<div class="t" style="left:1068.7px;top:782.81px;font-size:20.6px;line-height:24.7px;font-weight:normal;letter-spacing:0.275px;color:#000;-webkit-text-stroke:0.3px #fff;">ingredients</div>
<div class="t" style="left:12.65px;top:864.19px;font-size:16.9px;line-height:20.3px;font-weight:normal;letter-spacing:0.045px;color:#6c6c6c;-webkit-text-stroke:0.3px #fff;">Question: When purchasing wellness-related products, which of the following factors are most important to you? Out of 20 factors.</div>
<div class="t" style="left:12.65px;top:883.69px;font-size:16.9px;line-height:20.3px;font-weight:normal;letter-spacing:-0.004px;color:#6c6c6c;-webkit-text-stroke:0.3px #fff;">Source: McKinsey Future of Wellness Survey, Aug 2023</div>
<div class="t" style="left:10.85px;top:939.78px;font-size:16.8px;line-height:20.2px;font-weight:normal;letter-spacing:0.062px;color:#000;-webkit-text-stroke:0.25px #000;">McKinsey &amp; Company</div>
<div class="t" style="left:908.6px;top:141.3px;font-size:14px;line-height:14px;color:#000">1</div>
<div class="t" style="left:8.0px;top:866.2px;font-size:9.5px;line-height:10px;-webkit-text-stroke:0.3px #fff;color:#6c6c6c">1</div>
</body></html>
